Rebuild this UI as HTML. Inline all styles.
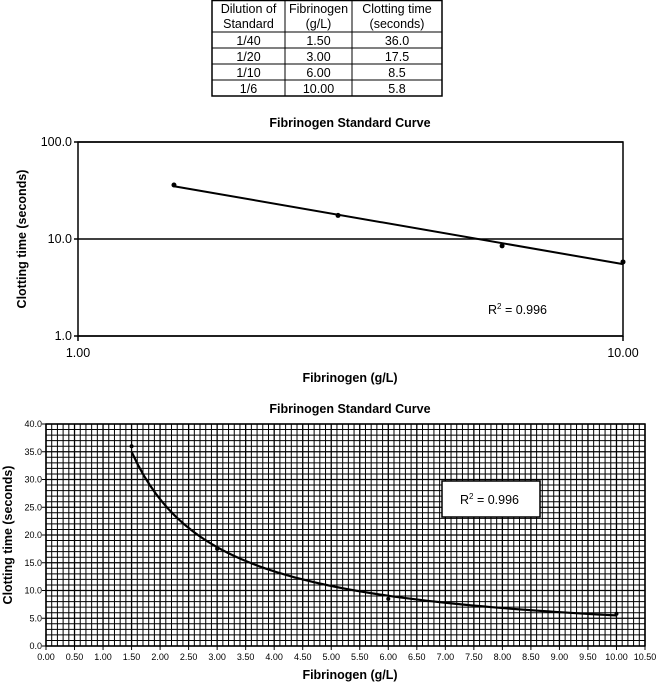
<!DOCTYPE html>
<html><head><meta charset="utf-8"><style>
body{margin:0;background:#fff;}
svg{display:block;font-family:"Liberation Sans",Arial,sans-serif;}
</style></head><body>
<svg id="s" width="658" height="683" viewBox="0 0 658 683"></svg>
<script>
const dilutions=["1/40","1/20","1/10","1/6"];
const fibrinogen=[1.50,3.00,6.00,10.00];
const clotting=[36.0,17.5,8.5,5.8];
const logYTicks=[1,10,100];
const logXTicks=[1,10];
const linXTicks=[0,0.5,1,1.5,2,2.5,3,3.5,4,4.5,5,5.5,6,6.5,7,7.5,8,8.5,9,9.5,10,10.5];
const linYTicks=[0,5,10,15,20,25,30,35,40];
const r2Label="0.996";

const NS="http://www.w3.org/2000/svg";
const svg=document.getElementById('s');
function el(tag,attrs,parent){const e=document.createElementNS(NS,tag);for(const k in attrs)e.setAttribute(k,attrs[k]);(parent||svg).appendChild(e);return e;}
function txt(str,attrs,parent){const e=el('text',attrs,parent);e.textContent=str;return e;}

const lx=fibrinogen.map(Math.log),ly=clotting.map(Math.log);
const n=lx.length,mx=lx.reduce((a,b)=>a+b)/n,my=ly.reduce((a,b)=>a+b)/n;
let sxy=0,sxx=0;for(let i=0;i<n;i++){sxy+=(lx[i]-mx)*(ly[i]-my);sxx+=(lx[i]-mx)**2;}
const b=sxy/sxx,a=my-b*mx;
const fit=x=>Math.exp(a+b*Math.log(x));

// ---- table ----
const tb=el('g',{},svg);


const cols=[212,285,352,442];
const rows=[0,32,48,64,80,96];
el('rect',{x:212,y:0.5,width:230,height:95.5,fill:'none',stroke:'#000','stroke-width':1.5},tb);
for(let i=1;i<3;i++)el('line',{x1:cols[i],y1:0,x2:cols[i],y2:96,stroke:'#000'},tb);
for(let i=1;i<5;i++)el('line',{x1:212,y1:rows[i],x2:442,y2:rows[i],stroke:'#000'},tb);
const hdr=[["Dilution of","Standard"],["Fibrinogen","(g/L)"],["Clotting time","(seconds)"]];
hdr.forEach((h,i)=>{const cx=(cols[i]+cols[i+1])/2;
 txt(h[0],{x:cx,y:13,'text-anchor':'middle','font-size':12.5},tb);
 txt(h[1],{x:cx,y:28,'text-anchor':'middle','font-size':12.5},tb);});
for(let r=0;r<4;r++){
 const y=rows[r+1]+13;
 const vals=[dilutions[r],fibrinogen[r].toFixed(2),clotting[r].toFixed(1)];
 vals.forEach((v,i)=>txt(v,{x:(cols[i]+cols[i+1])/2,y:y,'text-anchor':'middle','font-size':12.5},tb));
}

// ---- log chart ----
const L={x0:78,x1:623,y0:336,y1:142};
const lxS=v=>L.x0+Math.log10(v)*(L.x1-L.x0);
const lyS=v=>L.y0-Math.log10(v)/2*(L.y0-L.y1);
const g1=el('g',{},svg);


const t1=txt("Fibrinogen Standard Curve",{x:350,y:127,'text-anchor':'middle','font-size':12.5,'font-weight':'bold'},g1);


el('rect',{x:L.x0,y:L.y1,width:L.x1-L.x0,height:L.y0-L.y1,fill:'none',stroke:'#000','stroke-width':1.5},g1);
logYTicks.forEach(v=>{const y=lyS(v);
 el('line',{x1:L.x0-4,y1:y,x2:L.x1,y2:y,stroke:'#000','stroke-width':1.5},g1);
 txt(v.toFixed(1),{x:L.x0-6,y:y+4,'text-anchor':'end','font-size':12.5},g1);});
logXTicks.forEach(v=>{const x=lxS(v);
 el('line',{x1:x,y1:L.y0,x2:x,y2:L.y0+5,stroke:'#000','stroke-width':1.5},g1);
 txt(v.toFixed(2),{x:x,y:L.y0+21,'text-anchor':'middle','font-size':12.5},g1);});
const xt1=txt("Fibrinogen (g/L)",{x:350,y:382,'text-anchor':'middle','font-size':12.5,'font-weight':'bold'},g1);


const yt1=txt("Clotting time (seconds)",{x:0,y:0,'text-anchor':'middle','font-size':12.5,'font-weight':'bold',transform:'translate(26,239) rotate(-90)'},g1);


const fx0=Math.min(...fibrinogen),fx1=Math.max(...fibrinogen);
const tl1=el('line',{x1:lxS(fx0),y1:lyS(fit(fx0)),x2:lxS(fx1),y2:lyS(fit(fx1)),stroke:'#000','stroke-width':2},g1);


fibrinogen.forEach((f,i)=>{const c=el('circle',{cx:lxS(f),cy:lyS(clotting[i]),r:2.5,fill:'#000'},g1);
 
 });
const r1=txt("",{x:488,y:314,'font-size':12.5},g1);


r1.innerHTML='R<tspan dy="-5" font-size="8">2</tspan><tspan dy="5"> = '+r2Label+'</tspan>';

// ---- linear grid chart ----
const G={x0:46,x1:645,y0:646,y1:424,xmax:10.5,ymax:40};
const gx=v=>G.x0+v/G.xmax*(G.x1-G.x0);
const gy=v=>G.y0-v/G.ymax*(G.y0-G.y1);
const g2=el('g',{},svg);


const t2=txt("Fibrinogen Standard Curve",{x:350,y:413,'text-anchor':'middle','font-size':12.5,'font-weight':'bold'},g2);


for(let i=0;i<=105;i++){const x=gx(i/10);el('line',{x1:x,y1:G.y1,x2:x,y2:G.y0,stroke:'#000','stroke-width':i%5==0?1.3:1},g2);}
for(let i=0;i<=40;i++){const y=gy(i);el('line',{x1:G.x0,y1:y,x2:G.x1,y2:y,stroke:'#000','stroke-width':i%5==0?1.3:1},g2);}
el('rect',{x:G.x0,y:G.y1,width:G.x1-G.x0,height:G.y0-G.y1,fill:'none',stroke:'#000','stroke-width':1.5},g2);
linYTicks.forEach(v=>{const y=gy(v);
 el('line',{x1:G.x0-4,y1:y,x2:G.x0,y2:y,stroke:'#000'},g2);
 txt(v.toFixed(1),{x:G.x0-4,y:y+3,'text-anchor':'end','font-size':9},g2);});
linXTicks.forEach(v=>{const x=gx(v);
 el('line',{x1:x,y1:G.y0,x2:x,y2:G.y0+4,stroke:'#000'},g2);
 txt(v.toFixed(2),{x:x,y:G.y0+14,'text-anchor':'middle','font-size':9},g2);});
const xt2=txt("Fibrinogen (g/L)",{x:350,y:679,'text-anchor':'middle','font-size':12.5,'font-weight':'bold'},g2);


const yt2=txt("Clotting time (seconds)",{x:0,y:0,'text-anchor':'middle','font-size':12.5,'font-weight':'bold',transform:'translate(12,535) rotate(-90)'},g2);


let d='';for(let k=0;k<=80;k++){const x=fx0+(fx1-fx0)*k/80;d+=(k?'L':'M')+gx(x).toFixed(2)+','+gy(fit(x)).toFixed(2);}
const c2=el('path',{d:d,fill:'none',stroke:'#000','stroke-width':2.2},g2);


fibrinogen.forEach((f,i)=>{const c=el('circle',{cx:gx(f),cy:gy(clotting[i]),r:2,fill:'#000'},g2);
 
 });
const box=el('rect',{x:442,y:481,width:98,height:36,fill:'#fff',stroke:'#000','stroke-width':1.5},g2);


const r2=txt("",{x:460,y:504,'font-size':12.5},g2);


r2.innerHTML='R<tspan dy="-5" font-size="8">2</tspan><tspan dy="5"> = '+r2Label+'</tspan>';
</script>
</body></html>
